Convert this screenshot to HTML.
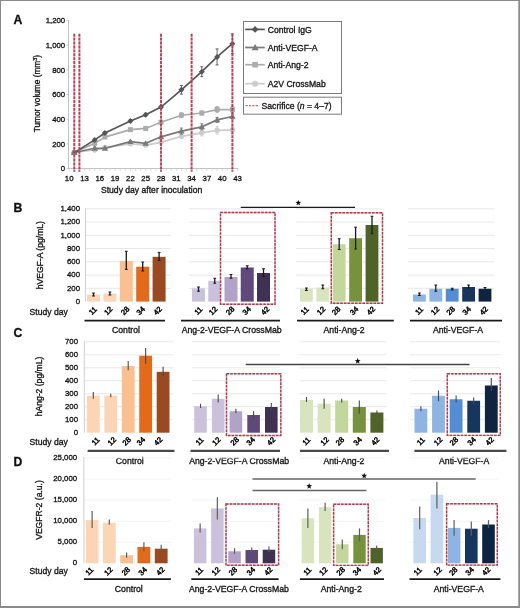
<!DOCTYPE html>
<html><head><meta charset="utf-8"><title>Figure</title>
<style>html,body{margin:0;padding:0;background:#fff;}svg{display:block;will-change:transform;}text{font-family:"Liberation Sans",sans-serif;stroke:#111;stroke-width:0.32px;}</style>
</head><body>
<svg width="520" height="608" viewBox="0 0 520 608">
<rect x="0" y="0" width="520" height="608" fill="#fff"/>
<text x="13.50" y="23.80" font-size="12.2" text-anchor="start" fill="#111" font-weight="bold" >A</text>
<line x1="68.50" y1="20.50" x2="68.50" y2="168.50" stroke="#c4c4c4" stroke-width="1" />
<line x1="68.50" y1="168.50" x2="238.50" y2="168.50" stroke="#c4c4c4" stroke-width="1" />
<line x1="66.50" y1="168.50" x2="68.50" y2="168.50" stroke="#bbb" stroke-width="0.8" />
<text x="65.20" y="171.30" font-size="7.8" text-anchor="end" fill="#222" >0</text>
<line x1="66.50" y1="143.84" x2="68.50" y2="143.84" stroke="#bbb" stroke-width="0.8" />
<text x="65.20" y="146.64" font-size="7.8" text-anchor="end" fill="#222" >200</text>
<line x1="66.50" y1="119.18" x2="68.50" y2="119.18" stroke="#bbb" stroke-width="0.8" />
<text x="65.20" y="121.98" font-size="7.8" text-anchor="end" fill="#222" >400</text>
<line x1="66.50" y1="94.52" x2="68.50" y2="94.52" stroke="#bbb" stroke-width="0.8" />
<text x="65.20" y="97.32" font-size="7.8" text-anchor="end" fill="#222" >600</text>
<line x1="66.50" y1="69.86" x2="68.50" y2="69.86" stroke="#bbb" stroke-width="0.8" />
<text x="65.20" y="72.66" font-size="7.8" text-anchor="end" fill="#222" >800</text>
<line x1="66.50" y1="45.20" x2="68.50" y2="45.20" stroke="#bbb" stroke-width="0.8" />
<text x="65.20" y="48.00" font-size="7.8" text-anchor="end" fill="#222" >1,000</text>
<line x1="66.50" y1="20.54" x2="68.50" y2="20.54" stroke="#bbb" stroke-width="0.8" />
<text x="65.20" y="23.34" font-size="7.8" text-anchor="end" fill="#222" >1,200</text>
<line x1="69.20" y1="168.50" x2="69.20" y2="170.80" stroke="#c8c8c8" stroke-width="0.7" />
<line x1="74.30" y1="168.50" x2="74.30" y2="170.80" stroke="#c8c8c8" stroke-width="0.7" />
<line x1="79.40" y1="168.50" x2="79.40" y2="170.80" stroke="#c8c8c8" stroke-width="0.7" />
<line x1="84.50" y1="168.50" x2="84.50" y2="170.80" stroke="#c8c8c8" stroke-width="0.7" />
<line x1="89.60" y1="168.50" x2="89.60" y2="170.80" stroke="#c8c8c8" stroke-width="0.7" />
<line x1="94.70" y1="168.50" x2="94.70" y2="170.80" stroke="#c8c8c8" stroke-width="0.7" />
<line x1="99.80" y1="168.50" x2="99.80" y2="170.80" stroke="#c8c8c8" stroke-width="0.7" />
<line x1="104.90" y1="168.50" x2="104.90" y2="170.80" stroke="#c8c8c8" stroke-width="0.7" />
<line x1="110.00" y1="168.50" x2="110.00" y2="170.80" stroke="#c8c8c8" stroke-width="0.7" />
<line x1="115.10" y1="168.50" x2="115.10" y2="170.80" stroke="#c8c8c8" stroke-width="0.7" />
<line x1="120.20" y1="168.50" x2="120.20" y2="170.80" stroke="#c8c8c8" stroke-width="0.7" />
<line x1="125.30" y1="168.50" x2="125.30" y2="170.80" stroke="#c8c8c8" stroke-width="0.7" />
<line x1="130.40" y1="168.50" x2="130.40" y2="170.80" stroke="#c8c8c8" stroke-width="0.7" />
<line x1="135.50" y1="168.50" x2="135.50" y2="170.80" stroke="#c8c8c8" stroke-width="0.7" />
<line x1="140.60" y1="168.50" x2="140.60" y2="170.80" stroke="#c8c8c8" stroke-width="0.7" />
<line x1="145.70" y1="168.50" x2="145.70" y2="170.80" stroke="#c8c8c8" stroke-width="0.7" />
<line x1="150.80" y1="168.50" x2="150.80" y2="170.80" stroke="#c8c8c8" stroke-width="0.7" />
<line x1="155.90" y1="168.50" x2="155.90" y2="170.80" stroke="#c8c8c8" stroke-width="0.7" />
<line x1="161.00" y1="168.50" x2="161.00" y2="170.80" stroke="#c8c8c8" stroke-width="0.7" />
<line x1="166.10" y1="168.50" x2="166.10" y2="170.80" stroke="#c8c8c8" stroke-width="0.7" />
<line x1="171.20" y1="168.50" x2="171.20" y2="170.80" stroke="#c8c8c8" stroke-width="0.7" />
<line x1="176.30" y1="168.50" x2="176.30" y2="170.80" stroke="#c8c8c8" stroke-width="0.7" />
<line x1="181.40" y1="168.50" x2="181.40" y2="170.80" stroke="#c8c8c8" stroke-width="0.7" />
<line x1="186.50" y1="168.50" x2="186.50" y2="170.80" stroke="#c8c8c8" stroke-width="0.7" />
<line x1="191.60" y1="168.50" x2="191.60" y2="170.80" stroke="#c8c8c8" stroke-width="0.7" />
<line x1="196.70" y1="168.50" x2="196.70" y2="170.80" stroke="#c8c8c8" stroke-width="0.7" />
<line x1="201.80" y1="168.50" x2="201.80" y2="170.80" stroke="#c8c8c8" stroke-width="0.7" />
<line x1="206.90" y1="168.50" x2="206.90" y2="170.80" stroke="#c8c8c8" stroke-width="0.7" />
<line x1="212.00" y1="168.50" x2="212.00" y2="170.80" stroke="#c8c8c8" stroke-width="0.7" />
<line x1="217.10" y1="168.50" x2="217.10" y2="170.80" stroke="#c8c8c8" stroke-width="0.7" />
<line x1="222.20" y1="168.50" x2="222.20" y2="170.80" stroke="#c8c8c8" stroke-width="0.7" />
<line x1="227.30" y1="168.50" x2="227.30" y2="170.80" stroke="#c8c8c8" stroke-width="0.7" />
<line x1="232.40" y1="168.50" x2="232.40" y2="170.80" stroke="#c8c8c8" stroke-width="0.7" />
<line x1="237.50" y1="168.50" x2="237.50" y2="170.80" stroke="#c8c8c8" stroke-width="0.7" />
<text x="69.20" y="181.20" font-size="7.8" text-anchor="middle" fill="#222" >10</text>
<text x="84.50" y="181.20" font-size="7.8" text-anchor="middle" fill="#222" >13</text>
<text x="99.80" y="181.20" font-size="7.8" text-anchor="middle" fill="#222" >16</text>
<text x="115.10" y="181.20" font-size="7.8" text-anchor="middle" fill="#222" >19</text>
<text x="130.40" y="181.20" font-size="7.8" text-anchor="middle" fill="#222" >22</text>
<text x="145.70" y="181.20" font-size="7.8" text-anchor="middle" fill="#222" >25</text>
<text x="161.00" y="181.20" font-size="7.8" text-anchor="middle" fill="#222" >28</text>
<text x="176.30" y="181.20" font-size="7.8" text-anchor="middle" fill="#222" >31</text>
<text x="191.60" y="181.20" font-size="7.8" text-anchor="middle" fill="#222" >34</text>
<text x="206.90" y="181.20" font-size="7.8" text-anchor="middle" fill="#222" >37</text>
<text x="222.20" y="181.20" font-size="7.8" text-anchor="middle" fill="#222" >40</text>
<text x="237.50" y="181.20" font-size="7.8" text-anchor="middle" fill="#222" >43</text>
<text x="151.60" y="192.60" font-size="8.6" text-anchor="middle" fill="#222" >Study day after inoculation</text>
<text x="0" y="0" font-size="8.3" text-anchor="middle" fill="#222" transform="translate(40.2,93.6) rotate(-90)">Tumor volume (mm<tspan dy="-3" font-size="5.5">3</tspan><tspan dy="3">)</tspan></text>
<polyline points="74.30,152.47 94.70,150.00 104.90,147.54 130.40,143.84 145.70,145.07 161.00,142.36 181.40,136.32 201.80,132.87 217.10,130.28 232.40,129.78" fill="none" stroke="#cccccc" stroke-width="1.7"/>
<line x1="94.70" y1="149.02" x2="94.70" y2="150.99" stroke="#cccccc" stroke-width="0.9" />
<line x1="93.20" y1="149.02" x2="96.20" y2="149.02" stroke="#cccccc" stroke-width="0.9" />
<line x1="93.20" y1="150.99" x2="96.20" y2="150.99" stroke="#cccccc" stroke-width="0.9" />
<line x1="130.40" y1="142.61" x2="130.40" y2="145.07" stroke="#cccccc" stroke-width="0.9" />
<line x1="128.90" y1="142.61" x2="131.90" y2="142.61" stroke="#cccccc" stroke-width="0.9" />
<line x1="128.90" y1="145.07" x2="131.90" y2="145.07" stroke="#cccccc" stroke-width="0.9" />
<line x1="145.70" y1="143.84" x2="145.70" y2="146.31" stroke="#cccccc" stroke-width="0.9" />
<line x1="144.20" y1="143.84" x2="147.20" y2="143.84" stroke="#cccccc" stroke-width="0.9" />
<line x1="144.20" y1="146.31" x2="147.20" y2="146.31" stroke="#cccccc" stroke-width="0.9" />
<line x1="161.00" y1="141.13" x2="161.00" y2="143.59" stroke="#cccccc" stroke-width="0.9" />
<line x1="159.50" y1="141.13" x2="162.50" y2="141.13" stroke="#cccccc" stroke-width="0.9" />
<line x1="159.50" y1="143.59" x2="162.50" y2="143.59" stroke="#cccccc" stroke-width="0.9" />
<line x1="181.40" y1="133.85" x2="181.40" y2="138.78" stroke="#cccccc" stroke-width="0.9" />
<line x1="179.90" y1="133.85" x2="182.90" y2="133.85" stroke="#cccccc" stroke-width="0.9" />
<line x1="179.90" y1="138.78" x2="182.90" y2="138.78" stroke="#cccccc" stroke-width="0.9" />
<line x1="201.80" y1="129.78" x2="201.80" y2="135.95" stroke="#cccccc" stroke-width="0.9" />
<line x1="200.30" y1="129.78" x2="203.30" y2="129.78" stroke="#cccccc" stroke-width="0.9" />
<line x1="200.30" y1="135.95" x2="203.30" y2="135.95" stroke="#cccccc" stroke-width="0.9" />
<line x1="217.10" y1="126.58" x2="217.10" y2="133.98" stroke="#cccccc" stroke-width="0.9" />
<line x1="215.60" y1="126.58" x2="218.60" y2="126.58" stroke="#cccccc" stroke-width="0.9" />
<line x1="215.60" y1="133.98" x2="218.60" y2="133.98" stroke="#cccccc" stroke-width="0.9" />
<line x1="232.40" y1="126.08" x2="232.40" y2="133.48" stroke="#cccccc" stroke-width="0.9" />
<line x1="230.90" y1="126.08" x2="233.90" y2="126.08" stroke="#cccccc" stroke-width="0.9" />
<line x1="230.90" y1="133.48" x2="233.90" y2="133.48" stroke="#cccccc" stroke-width="0.9" />
<circle cx="74.30" cy="152.47" r="2.70" fill="#cccccc"/>
<circle cx="94.70" cy="150.00" r="2.70" fill="#cccccc"/>
<circle cx="104.90" cy="147.54" r="2.70" fill="#cccccc"/>
<circle cx="130.40" cy="143.84" r="2.70" fill="#cccccc"/>
<circle cx="145.70" cy="145.07" r="2.70" fill="#cccccc"/>
<circle cx="161.00" cy="142.36" r="2.70" fill="#cccccc"/>
<circle cx="181.40" cy="136.32" r="2.70" fill="#cccccc"/>
<circle cx="201.80" cy="132.87" r="2.70" fill="#cccccc"/>
<circle cx="217.10" cy="130.28" r="2.70" fill="#cccccc"/>
<circle cx="232.40" cy="129.78" r="2.70" fill="#cccccc"/>
<polyline points="74.30,152.47 94.70,143.35 104.90,137.06 130.40,129.66 145.70,128.43 161.00,122.26 181.40,115.23 201.80,113.01 217.10,109.56 232.40,109.56" fill="none" stroke="#acacac" stroke-width="1.7"/>
<line x1="94.70" y1="142.36" x2="94.70" y2="144.33" stroke="#acacac" stroke-width="0.9" />
<line x1="93.20" y1="142.36" x2="96.20" y2="142.36" stroke="#acacac" stroke-width="0.9" />
<line x1="93.20" y1="144.33" x2="96.20" y2="144.33" stroke="#acacac" stroke-width="0.9" />
<line x1="104.90" y1="135.83" x2="104.90" y2="138.29" stroke="#acacac" stroke-width="0.9" />
<line x1="103.40" y1="135.83" x2="106.40" y2="135.83" stroke="#acacac" stroke-width="0.9" />
<line x1="103.40" y1="138.29" x2="106.40" y2="138.29" stroke="#acacac" stroke-width="0.9" />
<line x1="130.40" y1="128.43" x2="130.40" y2="130.89" stroke="#acacac" stroke-width="0.9" />
<line x1="128.90" y1="128.43" x2="131.90" y2="128.43" stroke="#acacac" stroke-width="0.9" />
<line x1="128.90" y1="130.89" x2="131.90" y2="130.89" stroke="#acacac" stroke-width="0.9" />
<line x1="145.70" y1="127.19" x2="145.70" y2="129.66" stroke="#acacac" stroke-width="0.9" />
<line x1="144.20" y1="127.19" x2="147.20" y2="127.19" stroke="#acacac" stroke-width="0.9" />
<line x1="144.20" y1="129.66" x2="147.20" y2="129.66" stroke="#acacac" stroke-width="0.9" />
<line x1="161.00" y1="121.03" x2="161.00" y2="123.50" stroke="#acacac" stroke-width="0.9" />
<line x1="159.50" y1="121.03" x2="162.50" y2="121.03" stroke="#acacac" stroke-width="0.9" />
<line x1="159.50" y1="123.50" x2="162.50" y2="123.50" stroke="#acacac" stroke-width="0.9" />
<line x1="181.40" y1="112.77" x2="181.40" y2="117.70" stroke="#acacac" stroke-width="0.9" />
<line x1="179.90" y1="112.77" x2="182.90" y2="112.77" stroke="#acacac" stroke-width="0.9" />
<line x1="179.90" y1="117.70" x2="182.90" y2="117.70" stroke="#acacac" stroke-width="0.9" />
<line x1="201.80" y1="111.17" x2="201.80" y2="114.86" stroke="#acacac" stroke-width="0.9" />
<line x1="200.30" y1="111.17" x2="203.30" y2="111.17" stroke="#acacac" stroke-width="0.9" />
<line x1="200.30" y1="114.86" x2="203.30" y2="114.86" stroke="#acacac" stroke-width="0.9" />
<line x1="217.10" y1="106.48" x2="217.10" y2="112.65" stroke="#acacac" stroke-width="0.9" />
<line x1="215.60" y1="106.48" x2="218.60" y2="106.48" stroke="#acacac" stroke-width="0.9" />
<line x1="215.60" y1="112.65" x2="218.60" y2="112.65" stroke="#acacac" stroke-width="0.9" />
<line x1="232.40" y1="106.48" x2="232.40" y2="112.65" stroke="#acacac" stroke-width="0.9" />
<line x1="230.90" y1="106.48" x2="233.90" y2="106.48" stroke="#acacac" stroke-width="0.9" />
<line x1="230.90" y1="112.65" x2="233.90" y2="112.65" stroke="#acacac" stroke-width="0.9" />
<rect x="71.80" y="149.97" width="5.00" height="5.00" fill="#acacac"/>
<rect x="92.20" y="140.85" width="5.00" height="5.00" fill="#acacac"/>
<rect x="102.40" y="134.56" width="5.00" height="5.00" fill="#acacac"/>
<rect x="127.90" y="127.16" width="5.00" height="5.00" fill="#acacac"/>
<rect x="143.20" y="125.93" width="5.00" height="5.00" fill="#acacac"/>
<rect x="158.50" y="119.76" width="5.00" height="5.00" fill="#acacac"/>
<rect x="178.90" y="112.73" width="5.00" height="5.00" fill="#acacac"/>
<rect x="199.30" y="110.51" width="5.00" height="5.00" fill="#acacac"/>
<rect x="214.60" y="107.06" width="5.00" height="5.00" fill="#acacac"/>
<rect x="229.90" y="107.06" width="5.00" height="5.00" fill="#acacac"/>
<polyline points="74.30,152.47 94.70,148.28 104.90,148.28 130.40,141.62 145.70,143.35 161.00,136.81 181.40,131.14 201.80,126.82 217.10,119.92 232.40,116.47" fill="none" stroke="#7a7a7a" stroke-width="1.7"/>
<line x1="94.70" y1="147.05" x2="94.70" y2="149.51" stroke="#7a7a7a" stroke-width="0.9" />
<line x1="93.20" y1="147.05" x2="96.20" y2="147.05" stroke="#7a7a7a" stroke-width="0.9" />
<line x1="93.20" y1="149.51" x2="96.20" y2="149.51" stroke="#7a7a7a" stroke-width="0.9" />
<line x1="104.90" y1="147.29" x2="104.90" y2="149.27" stroke="#7a7a7a" stroke-width="0.9" />
<line x1="103.40" y1="147.29" x2="106.40" y2="147.29" stroke="#7a7a7a" stroke-width="0.9" />
<line x1="103.40" y1="149.27" x2="106.40" y2="149.27" stroke="#7a7a7a" stroke-width="0.9" />
<line x1="130.40" y1="140.39" x2="130.40" y2="142.85" stroke="#7a7a7a" stroke-width="0.9" />
<line x1="128.90" y1="140.39" x2="131.90" y2="140.39" stroke="#7a7a7a" stroke-width="0.9" />
<line x1="128.90" y1="142.85" x2="131.90" y2="142.85" stroke="#7a7a7a" stroke-width="0.9" />
<line x1="145.70" y1="142.36" x2="145.70" y2="144.33" stroke="#7a7a7a" stroke-width="0.9" />
<line x1="144.20" y1="142.36" x2="147.20" y2="142.36" stroke="#7a7a7a" stroke-width="0.9" />
<line x1="144.20" y1="144.33" x2="147.20" y2="144.33" stroke="#7a7a7a" stroke-width="0.9" />
<line x1="161.00" y1="134.96" x2="161.00" y2="138.66" stroke="#7a7a7a" stroke-width="0.9" />
<line x1="159.50" y1="134.96" x2="162.50" y2="134.96" stroke="#7a7a7a" stroke-width="0.9" />
<line x1="159.50" y1="138.66" x2="162.50" y2="138.66" stroke="#7a7a7a" stroke-width="0.9" />
<line x1="181.40" y1="128.06" x2="181.40" y2="134.22" stroke="#7a7a7a" stroke-width="0.9" />
<line x1="179.90" y1="128.06" x2="182.90" y2="128.06" stroke="#7a7a7a" stroke-width="0.9" />
<line x1="179.90" y1="134.22" x2="182.90" y2="134.22" stroke="#7a7a7a" stroke-width="0.9" />
<line x1="201.80" y1="123.74" x2="201.80" y2="129.91" stroke="#7a7a7a" stroke-width="0.9" />
<line x1="200.30" y1="123.74" x2="203.30" y2="123.74" stroke="#7a7a7a" stroke-width="0.9" />
<line x1="200.30" y1="129.91" x2="203.30" y2="129.91" stroke="#7a7a7a" stroke-width="0.9" />
<line x1="217.10" y1="117.45" x2="217.10" y2="122.39" stroke="#7a7a7a" stroke-width="0.9" />
<line x1="215.60" y1="117.45" x2="218.60" y2="117.45" stroke="#7a7a7a" stroke-width="0.9" />
<line x1="215.60" y1="122.39" x2="218.60" y2="122.39" stroke="#7a7a7a" stroke-width="0.9" />
<line x1="232.40" y1="114.00" x2="232.40" y2="118.93" stroke="#7a7a7a" stroke-width="0.9" />
<line x1="230.90" y1="114.00" x2="233.90" y2="114.00" stroke="#7a7a7a" stroke-width="0.9" />
<line x1="230.90" y1="118.93" x2="233.90" y2="118.93" stroke="#7a7a7a" stroke-width="0.9" />
<polygon points="74.30,149.27 77.50,154.87 71.10,154.87" fill="#7a7a7a"/>
<polygon points="94.70,145.08 97.90,150.68 91.50,150.68" fill="#7a7a7a"/>
<polygon points="104.90,145.08 108.10,150.68 101.70,150.68" fill="#7a7a7a"/>
<polygon points="130.40,138.42 133.60,144.02 127.20,144.02" fill="#7a7a7a"/>
<polygon points="145.70,140.15 148.90,145.75 142.50,145.75" fill="#7a7a7a"/>
<polygon points="161.00,133.61 164.20,139.21 157.80,139.21" fill="#7a7a7a"/>
<polygon points="181.40,127.94 184.60,133.54 178.20,133.54" fill="#7a7a7a"/>
<polygon points="201.80,123.62 205.00,129.22 198.60,129.22" fill="#7a7a7a"/>
<polygon points="217.10,116.72 220.30,122.32 213.90,122.32" fill="#7a7a7a"/>
<polygon points="232.40,113.27 235.60,118.87 229.20,118.87" fill="#7a7a7a"/>
<polyline points="74.30,152.72 94.70,139.89 104.90,132.99 130.40,120.91 145.70,114.74 161.00,107.10 181.40,89.83 201.80,71.71 217.10,56.91 232.40,43.72" fill="none" stroke="#555555" stroke-width="1.7"/>
<line x1="94.70" y1="138.66" x2="94.70" y2="141.13" stroke="#555555" stroke-width="0.9" />
<line x1="93.20" y1="138.66" x2="96.20" y2="138.66" stroke="#555555" stroke-width="0.9" />
<line x1="93.20" y1="141.13" x2="96.20" y2="141.13" stroke="#555555" stroke-width="0.9" />
<line x1="104.90" y1="131.76" x2="104.90" y2="134.22" stroke="#555555" stroke-width="0.9" />
<line x1="103.40" y1="131.76" x2="106.40" y2="131.76" stroke="#555555" stroke-width="0.9" />
<line x1="103.40" y1="134.22" x2="106.40" y2="134.22" stroke="#555555" stroke-width="0.9" />
<line x1="130.40" y1="119.43" x2="130.40" y2="122.39" stroke="#555555" stroke-width="0.9" />
<line x1="128.90" y1="119.43" x2="131.90" y2="119.43" stroke="#555555" stroke-width="0.9" />
<line x1="128.90" y1="122.39" x2="131.90" y2="122.39" stroke="#555555" stroke-width="0.9" />
<line x1="145.70" y1="113.26" x2="145.70" y2="116.22" stroke="#555555" stroke-width="0.9" />
<line x1="144.20" y1="113.26" x2="147.20" y2="113.26" stroke="#555555" stroke-width="0.9" />
<line x1="144.20" y1="116.22" x2="147.20" y2="116.22" stroke="#555555" stroke-width="0.9" />
<line x1="161.00" y1="105.62" x2="161.00" y2="108.58" stroke="#555555" stroke-width="0.9" />
<line x1="159.50" y1="105.62" x2="162.50" y2="105.62" stroke="#555555" stroke-width="0.9" />
<line x1="159.50" y1="108.58" x2="162.50" y2="108.58" stroke="#555555" stroke-width="0.9" />
<line x1="181.40" y1="85.52" x2="181.40" y2="94.15" stroke="#555555" stroke-width="0.9" />
<line x1="179.90" y1="85.52" x2="182.90" y2="85.52" stroke="#555555" stroke-width="0.9" />
<line x1="179.90" y1="94.15" x2="182.90" y2="94.15" stroke="#555555" stroke-width="0.9" />
<line x1="201.80" y1="66.78" x2="201.80" y2="76.64" stroke="#555555" stroke-width="0.9" />
<line x1="200.30" y1="66.78" x2="203.30" y2="66.78" stroke="#555555" stroke-width="0.9" />
<line x1="200.30" y1="76.64" x2="203.30" y2="76.64" stroke="#555555" stroke-width="0.9" />
<line x1="217.10" y1="48.90" x2="217.10" y2="64.93" stroke="#555555" stroke-width="0.9" />
<line x1="215.60" y1="48.90" x2="218.60" y2="48.90" stroke="#555555" stroke-width="0.9" />
<line x1="215.60" y1="64.93" x2="218.60" y2="64.93" stroke="#555555" stroke-width="0.9" />
<line x1="232.40" y1="33.86" x2="232.40" y2="53.58" stroke="#555555" stroke-width="0.9" />
<line x1="230.90" y1="33.86" x2="233.90" y2="33.86" stroke="#555555" stroke-width="0.9" />
<line x1="230.90" y1="53.58" x2="233.90" y2="53.58" stroke="#555555" stroke-width="0.9" />
<polygon points="74.30,149.72 77.30,152.72 74.30,155.72 71.30,152.72" fill="#555555"/>
<polygon points="94.70,136.89 97.70,139.89 94.70,142.89 91.70,139.89" fill="#555555"/>
<polygon points="104.90,129.99 107.90,132.99 104.90,135.99 101.90,132.99" fill="#555555"/>
<polygon points="130.40,117.91 133.40,120.91 130.40,123.91 127.40,120.91" fill="#555555"/>
<polygon points="145.70,111.74 148.70,114.74 145.70,117.74 142.70,114.74" fill="#555555"/>
<polygon points="161.00,104.10 164.00,107.10 161.00,110.10 158.00,107.10" fill="#555555"/>
<polygon points="181.40,86.83 184.40,89.83 181.40,92.83 178.40,89.83" fill="#555555"/>
<polygon points="201.80,68.71 204.80,71.71 201.80,74.71 198.80,71.71" fill="#555555"/>
<polygon points="217.10,53.91 220.10,56.91 217.10,59.91 214.10,56.91" fill="#555555"/>
<polygon points="232.40,40.72 235.40,43.72 232.40,46.72 229.40,43.72" fill="#555555"/>
<polygon points="74.30,149.27 77.50,154.87 71.10,154.87" fill="#7a7a7a"/>
<line x1="74.30" y1="33.80" x2="74.30" y2="171.80" stroke="#e88a9a" stroke-width="1.9" stroke-opacity="0.45"/>
<line x1="74.30" y1="33.80" x2="74.30" y2="171.80" stroke="#a83a4b" stroke-width="1.9" stroke-dasharray="2.9,1.0" stroke-opacity="0.9"/>
<line x1="79.40" y1="33.80" x2="79.40" y2="171.80" stroke="#e88a9a" stroke-width="1.9" stroke-opacity="0.45"/>
<line x1="79.40" y1="33.80" x2="79.40" y2="171.80" stroke="#a83a4b" stroke-width="1.9" stroke-dasharray="2.9,1.0" stroke-opacity="0.9"/>
<line x1="161.00" y1="33.80" x2="161.00" y2="171.80" stroke="#e88a9a" stroke-width="1.9" stroke-opacity="0.45"/>
<line x1="161.00" y1="33.80" x2="161.00" y2="171.80" stroke="#a83a4b" stroke-width="1.9" stroke-dasharray="2.9,1.0" stroke-opacity="0.9"/>
<line x1="191.60" y1="33.80" x2="191.60" y2="171.80" stroke="#e88a9a" stroke-width="1.9" stroke-opacity="0.45"/>
<line x1="191.60" y1="33.80" x2="191.60" y2="171.80" stroke="#a83a4b" stroke-width="1.9" stroke-dasharray="2.9,1.0" stroke-opacity="0.9"/>
<line x1="232.40" y1="33.80" x2="232.40" y2="171.80" stroke="#e88a9a" stroke-width="1.9" stroke-opacity="0.45"/>
<line x1="232.40" y1="33.80" x2="232.40" y2="171.80" stroke="#a83a4b" stroke-width="1.9" stroke-dasharray="2.9,1.0" stroke-opacity="0.9"/>
<rect x="243.5" y="21.5" width="98" height="72" fill="#fff" stroke="#7a7a7a" stroke-width="1"/>
<line x1="245.20" y1="29.40" x2="264.80" y2="29.40" stroke="#555555" stroke-width="1.7" />
<polygon points="255.10,26.04 258.46,29.40 255.10,32.76 251.74,29.40" fill="#555555"/>
<text x="267.70" y="32.50" font-size="8.65" text-anchor="start" fill="#222" >Control IgG</text>
<line x1="245.20" y1="47.50" x2="264.80" y2="47.50" stroke="#7a7a7a" stroke-width="1.7" />
<polygon points="255.10,43.92 258.68,50.19 251.52,50.19" fill="#7a7a7a"/>
<text x="267.70" y="50.60" font-size="8.65" text-anchor="start" fill="#222" >Anti-VEGF-A</text>
<line x1="245.20" y1="64.70" x2="264.80" y2="64.70" stroke="#acacac" stroke-width="1.7" />
<rect x="252.30" y="61.90" width="5.60" height="5.60" fill="#acacac"/>
<text x="267.70" y="67.80" font-size="8.65" text-anchor="start" fill="#222" >Anti-Ang-2</text>
<line x1="245.20" y1="83.70" x2="264.80" y2="83.70" stroke="#cccccc" stroke-width="1.7" />
<circle cx="255.10" cy="83.70" r="3.02" fill="#cccccc"/>
<text x="267.70" y="86.80" font-size="8.65" text-anchor="start" fill="#222" >A2V CrossMab</text>
<rect x="243.5" y="97.2" width="98" height="17" fill="#fff" stroke="#7a7a7a" stroke-width="1"/>
<line x1="245.50" y1="105.60" x2="258.20" y2="105.60" stroke="#d8606e" stroke-width="1.1" stroke-dasharray="2.2,1.2"/>
<text x="261.6" y="108.7" font-size="8.6" fill="#222">Sacrifice (<tspan font-style="italic">n</tspan> = 4&#8211;7)</text>
<text x="13.40" y="212.00" font-size="12.2" text-anchor="start" fill="#111" font-weight="bold" >B</text>
<line x1="85.40" y1="288.34" x2="170.80" y2="288.34" stroke="#e2e2e2" stroke-width="0.8" />
<line x1="85.40" y1="275.09" x2="170.80" y2="275.09" stroke="#e2e2e2" stroke-width="0.8" />
<line x1="85.40" y1="261.83" x2="170.80" y2="261.83" stroke="#e2e2e2" stroke-width="0.8" />
<line x1="85.40" y1="248.57" x2="170.80" y2="248.57" stroke="#e2e2e2" stroke-width="0.8" />
<line x1="85.40" y1="235.31" x2="170.80" y2="235.31" stroke="#e2e2e2" stroke-width="0.8" />
<line x1="85.40" y1="222.06" x2="170.80" y2="222.06" stroke="#e2e2e2" stroke-width="0.8" />
<line x1="85.40" y1="208.80" x2="170.80" y2="208.80" stroke="#e2e2e2" stroke-width="0.8" />
<line x1="188.80" y1="288.34" x2="273.00" y2="288.34" stroke="#e2e2e2" stroke-width="0.8" />
<line x1="188.80" y1="275.09" x2="273.00" y2="275.09" stroke="#e2e2e2" stroke-width="0.8" />
<line x1="188.80" y1="261.83" x2="273.00" y2="261.83" stroke="#e2e2e2" stroke-width="0.8" />
<line x1="188.80" y1="248.57" x2="273.00" y2="248.57" stroke="#e2e2e2" stroke-width="0.8" />
<line x1="188.80" y1="235.31" x2="273.00" y2="235.31" stroke="#e2e2e2" stroke-width="0.8" />
<line x1="188.80" y1="222.06" x2="273.00" y2="222.06" stroke="#e2e2e2" stroke-width="0.8" />
<line x1="188.80" y1="208.80" x2="273.00" y2="208.80" stroke="#e2e2e2" stroke-width="0.8" />
<line x1="296.20" y1="288.34" x2="381.50" y2="288.34" stroke="#e2e2e2" stroke-width="0.8" />
<line x1="296.20" y1="275.09" x2="381.50" y2="275.09" stroke="#e2e2e2" stroke-width="0.8" />
<line x1="296.20" y1="261.83" x2="381.50" y2="261.83" stroke="#e2e2e2" stroke-width="0.8" />
<line x1="296.20" y1="248.57" x2="381.50" y2="248.57" stroke="#e2e2e2" stroke-width="0.8" />
<line x1="296.20" y1="235.31" x2="381.50" y2="235.31" stroke="#e2e2e2" stroke-width="0.8" />
<line x1="296.20" y1="222.06" x2="381.50" y2="222.06" stroke="#e2e2e2" stroke-width="0.8" />
<line x1="296.20" y1="208.80" x2="381.50" y2="208.80" stroke="#e2e2e2" stroke-width="0.8" />
<line x1="408.00" y1="288.34" x2="494.60" y2="288.34" stroke="#e2e2e2" stroke-width="0.8" />
<line x1="408.00" y1="275.09" x2="494.60" y2="275.09" stroke="#e2e2e2" stroke-width="0.8" />
<line x1="408.00" y1="261.83" x2="494.60" y2="261.83" stroke="#e2e2e2" stroke-width="0.8" />
<line x1="408.00" y1="248.57" x2="494.60" y2="248.57" stroke="#e2e2e2" stroke-width="0.8" />
<line x1="408.00" y1="235.31" x2="494.60" y2="235.31" stroke="#e2e2e2" stroke-width="0.8" />
<line x1="408.00" y1="222.06" x2="494.60" y2="222.06" stroke="#e2e2e2" stroke-width="0.8" />
<line x1="408.00" y1="208.80" x2="494.60" y2="208.80" stroke="#e2e2e2" stroke-width="0.8" />
<line x1="85.40" y1="208.30" x2="85.40" y2="301.60" stroke="#c8c8c8" stroke-width="0.9" />
<text x="80.00" y="304.00" font-size="7.8" text-anchor="end" fill="#222" >0</text>
<text x="80.00" y="290.74" font-size="7.8" text-anchor="end" fill="#222" >200</text>
<text x="80.00" y="277.49" font-size="7.8" text-anchor="end" fill="#222" >400</text>
<text x="80.00" y="264.23" font-size="7.8" text-anchor="end" fill="#222" >600</text>
<text x="80.00" y="250.97" font-size="7.8" text-anchor="end" fill="#222" >800</text>
<text x="80.00" y="237.71" font-size="7.8" text-anchor="end" fill="#222" >1,000</text>
<text x="80.00" y="224.46" font-size="7.8" text-anchor="end" fill="#222" >1,200</text>
<text x="80.00" y="211.20" font-size="7.8" text-anchor="end" fill="#222" >1,400</text>
<text x="0" y="0" font-size="8.6" text-anchor="middle" fill="#222" transform="translate(42.8,255.2) rotate(-90)">hVEGF-A (pg/mL)</text>
<text x="29.60" y="315.00" font-size="8.6" text-anchor="start" fill="#222" >Study day</text>
<rect x="87.00" y="294.40" width="13.00" height="7.20" fill="#FBD5B5" />
<rect x="103.40" y="293.60" width="13.00" height="8.00" fill="#FBD5B5" />
<rect x="119.80" y="260.90" width="13.00" height="40.70" fill="#FAC090" />
<rect x="136.20" y="266.70" width="13.00" height="34.90" fill="#E26A1A" />
<rect x="152.60" y="256.80" width="13.00" height="44.80" fill="#9A4A22" />
<line x1="93.50" y1="293.00" x2="93.50" y2="296.00" stroke="#1a1a1a" stroke-width="1.3" />
<line x1="92.10" y1="293.00" x2="94.90" y2="293.00" stroke="#1a1a1a" stroke-width="1.0" />
<line x1="92.10" y1="296.00" x2="94.90" y2="296.00" stroke="#1a1a1a" stroke-width="1.0" />
<line x1="109.90" y1="292.00" x2="109.90" y2="295.00" stroke="#1a1a1a" stroke-width="1.3" />
<line x1="108.50" y1="292.00" x2="111.30" y2="292.00" stroke="#1a1a1a" stroke-width="1.0" />
<line x1="108.50" y1="295.00" x2="111.30" y2="295.00" stroke="#1a1a1a" stroke-width="1.0" />
<line x1="126.30" y1="251.30" x2="126.30" y2="269.40" stroke="#1a1a1a" stroke-width="1.3" />
<line x1="124.90" y1="251.30" x2="127.70" y2="251.30" stroke="#1a1a1a" stroke-width="1.0" />
<line x1="124.90" y1="269.40" x2="127.70" y2="269.40" stroke="#1a1a1a" stroke-width="1.0" />
<line x1="142.70" y1="262.00" x2="142.70" y2="271.00" stroke="#1a1a1a" stroke-width="1.3" />
<line x1="141.30" y1="262.00" x2="144.10" y2="262.00" stroke="#1a1a1a" stroke-width="1.0" />
<line x1="141.30" y1="271.00" x2="144.10" y2="271.00" stroke="#1a1a1a" stroke-width="1.0" />
<line x1="159.10" y1="252.40" x2="159.10" y2="260.50" stroke="#1a1a1a" stroke-width="1.3" />
<line x1="157.70" y1="252.40" x2="160.50" y2="252.40" stroke="#1a1a1a" stroke-width="1.0" />
<line x1="157.70" y1="260.50" x2="160.50" y2="260.50" stroke="#1a1a1a" stroke-width="1.0" />
<text x="0" y="0" font-size="7.5" font-weight="normal" text-anchor="middle" fill="#000" style="stroke:#000;stroke-width:0.45px" transform="translate(94.70,312.60) rotate(-45)">11</text>
<text x="0" y="0" font-size="7.5" font-weight="normal" text-anchor="middle" fill="#000" style="stroke:#000;stroke-width:0.45px" transform="translate(110.10,312.60) rotate(-45)">12</text>
<text x="0" y="0" font-size="7.5" font-weight="normal" text-anchor="middle" fill="#000" style="stroke:#000;stroke-width:0.45px" transform="translate(126.90,312.60) rotate(-45)">28</text>
<text x="0" y="0" font-size="7.5" font-weight="normal" text-anchor="middle" fill="#000" style="stroke:#000;stroke-width:0.45px" transform="translate(142.50,312.60) rotate(-45)">34</text>
<text x="0" y="0" font-size="7.5" font-weight="normal" text-anchor="middle" fill="#000" style="stroke:#000;stroke-width:0.45px" transform="translate(159.50,312.60) rotate(-45)">42</text>
<rect x="192.00" y="288.40" width="13.00" height="13.20" fill="#CCC1DA" />
<rect x="208.25" y="280.80" width="13.00" height="20.80" fill="#CCC1DA" />
<rect x="224.50" y="277.00" width="13.00" height="24.60" fill="#B2A2C7" />
<rect x="240.75" y="267.50" width="13.00" height="34.10" fill="#5F497A" />
<rect x="257.00" y="273.00" width="13.00" height="28.60" fill="#3F3151" />
<line x1="198.50" y1="287.00" x2="198.50" y2="291.25" stroke="#1a1a1a" stroke-width="1.3" />
<line x1="197.10" y1="287.00" x2="199.90" y2="287.00" stroke="#1a1a1a" stroke-width="1.0" />
<line x1="197.10" y1="291.25" x2="199.90" y2="291.25" stroke="#1a1a1a" stroke-width="1.0" />
<line x1="214.75" y1="278.25" x2="214.75" y2="283.25" stroke="#1a1a1a" stroke-width="1.3" />
<line x1="213.35" y1="278.25" x2="216.15" y2="278.25" stroke="#1a1a1a" stroke-width="1.0" />
<line x1="213.35" y1="283.25" x2="216.15" y2="283.25" stroke="#1a1a1a" stroke-width="1.0" />
<line x1="231.00" y1="274.50" x2="231.00" y2="278.25" stroke="#1a1a1a" stroke-width="1.3" />
<line x1="229.60" y1="274.50" x2="232.40" y2="274.50" stroke="#1a1a1a" stroke-width="1.0" />
<line x1="229.60" y1="278.25" x2="232.40" y2="278.25" stroke="#1a1a1a" stroke-width="1.0" />
<line x1="247.25" y1="265.75" x2="247.25" y2="268.75" stroke="#1a1a1a" stroke-width="1.3" />
<line x1="245.85" y1="265.75" x2="248.65" y2="265.75" stroke="#1a1a1a" stroke-width="1.0" />
<line x1="245.85" y1="268.75" x2="248.65" y2="268.75" stroke="#1a1a1a" stroke-width="1.0" />
<line x1="263.50" y1="268.75" x2="263.50" y2="276.25" stroke="#1a1a1a" stroke-width="1.3" />
<line x1="262.10" y1="268.75" x2="264.90" y2="268.75" stroke="#1a1a1a" stroke-width="1.0" />
<line x1="262.10" y1="276.25" x2="264.90" y2="276.25" stroke="#1a1a1a" stroke-width="1.0" />
<text x="0" y="0" font-size="7.5" font-weight="normal" text-anchor="middle" fill="#000" style="stroke:#000;stroke-width:0.45px" transform="translate(200.30,312.60) rotate(-45)">11</text>
<text x="0" y="0" font-size="7.5" font-weight="normal" text-anchor="middle" fill="#000" style="stroke:#000;stroke-width:0.45px" transform="translate(215.00,312.60) rotate(-45)">12</text>
<text x="0" y="0" font-size="7.5" font-weight="normal" text-anchor="middle" fill="#000" style="stroke:#000;stroke-width:0.45px" transform="translate(232.00,312.60) rotate(-45)">28</text>
<text x="0" y="0" font-size="7.5" font-weight="normal" text-anchor="middle" fill="#000" style="stroke:#000;stroke-width:0.45px" transform="translate(248.50,312.60) rotate(-45)">34</text>
<text x="0" y="0" font-size="7.5" font-weight="normal" text-anchor="middle" fill="#000" style="stroke:#000;stroke-width:0.45px" transform="translate(267.00,312.60) rotate(-45)">42</text>
<rect x="300.00" y="288.75" width="12.80" height="12.85" fill="#D7E4BD" />
<rect x="316.40" y="287.50" width="12.80" height="14.10" fill="#D7E4BD" />
<rect x="332.80" y="244.25" width="12.80" height="57.35" fill="#C3D69B" />
<rect x="349.20" y="238.25" width="12.80" height="63.35" fill="#76923C" />
<rect x="365.60" y="225.00" width="12.80" height="76.60" fill="#4F6228" />
<line x1="306.40" y1="288.00" x2="306.40" y2="290.50" stroke="#1a1a1a" stroke-width="1.3" />
<line x1="305.00" y1="288.00" x2="307.80" y2="288.00" stroke="#1a1a1a" stroke-width="1.0" />
<line x1="305.00" y1="290.50" x2="307.80" y2="290.50" stroke="#1a1a1a" stroke-width="1.0" />
<line x1="322.80" y1="285.00" x2="322.80" y2="288.75" stroke="#1a1a1a" stroke-width="1.3" />
<line x1="321.40" y1="285.00" x2="324.20" y2="285.00" stroke="#1a1a1a" stroke-width="1.0" />
<line x1="321.40" y1="288.75" x2="324.20" y2="288.75" stroke="#1a1a1a" stroke-width="1.0" />
<line x1="339.20" y1="238.75" x2="339.20" y2="249.50" stroke="#1a1a1a" stroke-width="1.3" />
<line x1="337.80" y1="238.75" x2="340.60" y2="238.75" stroke="#1a1a1a" stroke-width="1.0" />
<line x1="337.80" y1="249.50" x2="340.60" y2="249.50" stroke="#1a1a1a" stroke-width="1.0" />
<line x1="355.60" y1="227.20" x2="355.60" y2="249.00" stroke="#1a1a1a" stroke-width="1.3" />
<line x1="354.20" y1="227.20" x2="357.00" y2="227.20" stroke="#1a1a1a" stroke-width="1.0" />
<line x1="354.20" y1="249.00" x2="357.00" y2="249.00" stroke="#1a1a1a" stroke-width="1.0" />
<line x1="372.00" y1="216.25" x2="372.00" y2="233.75" stroke="#1a1a1a" stroke-width="1.3" />
<line x1="370.60" y1="216.25" x2="373.40" y2="216.25" stroke="#1a1a1a" stroke-width="1.0" />
<line x1="370.60" y1="233.75" x2="373.40" y2="233.75" stroke="#1a1a1a" stroke-width="1.0" />
<text x="0" y="0" font-size="7.5" font-weight="normal" text-anchor="middle" fill="#000" style="stroke:#000;stroke-width:0.45px" transform="translate(306.60,312.60) rotate(-45)">11</text>
<text x="0" y="0" font-size="7.5" font-weight="normal" text-anchor="middle" fill="#000" style="stroke:#000;stroke-width:0.45px" transform="translate(323.00,312.60) rotate(-45)">12</text>
<text x="0" y="0" font-size="7.5" font-weight="normal" text-anchor="middle" fill="#000" style="stroke:#000;stroke-width:0.45px" transform="translate(338.00,312.60) rotate(-45)">28</text>
<text x="0" y="0" font-size="7.5" font-weight="normal" text-anchor="middle" fill="#000" style="stroke:#000;stroke-width:0.45px" transform="translate(355.90,312.60) rotate(-45)">34</text>
<text x="0" y="0" font-size="7.5" font-weight="normal" text-anchor="middle" fill="#000" style="stroke:#000;stroke-width:0.45px" transform="translate(372.70,312.60) rotate(-45)">42</text>
<rect x="413.00" y="294.50" width="12.80" height="7.10" fill="#8DB4E3" />
<rect x="429.40" y="288.75" width="12.80" height="12.85" fill="#8DB4E3" />
<rect x="445.80" y="288.75" width="12.80" height="12.85" fill="#548DD4" />
<rect x="462.20" y="287.00" width="12.80" height="14.60" fill="#17365D" />
<rect x="478.60" y="288.75" width="12.80" height="12.85" fill="#0F243E" />
<line x1="419.40" y1="293.00" x2="419.40" y2="295.50" stroke="#1a1a1a" stroke-width="1.3" />
<line x1="418.00" y1="293.00" x2="420.80" y2="293.00" stroke="#1a1a1a" stroke-width="1.0" />
<line x1="418.00" y1="295.50" x2="420.80" y2="295.50" stroke="#1a1a1a" stroke-width="1.0" />
<line x1="435.80" y1="285.00" x2="435.80" y2="291.25" stroke="#1a1a1a" stroke-width="1.3" />
<line x1="434.40" y1="285.00" x2="437.20" y2="285.00" stroke="#1a1a1a" stroke-width="1.0" />
<line x1="434.40" y1="291.25" x2="437.20" y2="291.25" stroke="#1a1a1a" stroke-width="1.0" />
<line x1="452.20" y1="288.25" x2="452.20" y2="290.00" stroke="#1a1a1a" stroke-width="1.3" />
<line x1="450.80" y1="288.25" x2="453.60" y2="288.25" stroke="#1a1a1a" stroke-width="1.0" />
<line x1="450.80" y1="290.00" x2="453.60" y2="290.00" stroke="#1a1a1a" stroke-width="1.0" />
<line x1="468.60" y1="285.00" x2="468.60" y2="288.00" stroke="#1a1a1a" stroke-width="1.3" />
<line x1="467.20" y1="285.00" x2="470.00" y2="285.00" stroke="#1a1a1a" stroke-width="1.0" />
<line x1="467.20" y1="288.00" x2="470.00" y2="288.00" stroke="#1a1a1a" stroke-width="1.0" />
<line x1="485.00" y1="287.50" x2="485.00" y2="289.50" stroke="#1a1a1a" stroke-width="1.3" />
<line x1="483.60" y1="287.50" x2="486.40" y2="287.50" stroke="#1a1a1a" stroke-width="1.0" />
<line x1="483.60" y1="289.50" x2="486.40" y2="289.50" stroke="#1a1a1a" stroke-width="1.0" />
<text x="0" y="0" font-size="7.5" font-weight="normal" text-anchor="middle" fill="#000" style="stroke:#000;stroke-width:0.45px" transform="translate(420.90,312.60) rotate(-45)">11</text>
<text x="0" y="0" font-size="7.5" font-weight="normal" text-anchor="middle" fill="#000" style="stroke:#000;stroke-width:0.45px" transform="translate(436.90,312.60) rotate(-45)">12</text>
<text x="0" y="0" font-size="7.5" font-weight="normal" text-anchor="middle" fill="#000" style="stroke:#000;stroke-width:0.45px" transform="translate(452.50,312.60) rotate(-45)">28</text>
<text x="0" y="0" font-size="7.5" font-weight="normal" text-anchor="middle" fill="#000" style="stroke:#000;stroke-width:0.45px" transform="translate(468.50,312.60) rotate(-45)">34</text>
<text x="0" y="0" font-size="7.5" font-weight="normal" text-anchor="middle" fill="#000" style="stroke:#000;stroke-width:0.45px" transform="translate(485.60,312.60) rotate(-45)">42</text>
<rect x="220.50" y="212.50" width="54.50" height="91.70" fill="none" stroke="#f0bcc6" stroke-width="1.5"/>
<rect x="220.50" y="212.50" width="54.50" height="91.70" fill="none" stroke="#a8414f" stroke-width="1.4" stroke-dasharray="2.6,1.1"/>
<rect x="331.30" y="212.80" width="51.20" height="90.40" fill="none" stroke="#f0bcc6" stroke-width="1.5"/>
<rect x="331.30" y="212.80" width="51.20" height="90.40" fill="none" stroke="#a8414f" stroke-width="1.4" stroke-dasharray="2.6,1.1"/>
<line x1="240.70" y1="207.40" x2="355.00" y2="207.40" stroke="#1a1a1a" stroke-width="1.15" />
<polygon points="298.30,199.90 299.09,201.81 301.15,201.97 299.58,203.32 300.06,205.33 298.30,204.25 296.54,205.33 297.02,203.32 295.45,201.97 297.51,201.81" fill="#111"/>
<line x1="84.50" y1="320.60" x2="165.00" y2="320.60" stroke="#1a1a1a" stroke-width="1.6" />
<line x1="181.00" y1="320.60" x2="280.00" y2="320.60" stroke="#1a1a1a" stroke-width="1.6" />
<line x1="297.00" y1="320.60" x2="393.80" y2="320.60" stroke="#1a1a1a" stroke-width="1.6" />
<line x1="410.00" y1="320.60" x2="502.00" y2="320.60" stroke="#1a1a1a" stroke-width="1.6" />
<text x="126.00" y="333.20" font-size="8.7" text-anchor="middle" fill="#222" >Control</text>
<text x="231.60" y="333.20" font-size="8.7" text-anchor="middle" fill="#222" >Ang-2-VEGF-A CrossMab</text>
<text x="344.10" y="333.20" font-size="8.7" text-anchor="middle" fill="#222" >Anti-Ang-2</text>
<text x="458.00" y="333.20" font-size="8.7" text-anchor="middle" fill="#222" >Anti-VEGF-A</text>
<text x="13.40" y="337.00" font-size="12.2" text-anchor="start" fill="#111" font-weight="bold" >C</text>
<line x1="84.50" y1="419.71" x2="173.00" y2="419.71" stroke="#e2e2e2" stroke-width="0.8" />
<line x1="84.50" y1="406.73" x2="173.00" y2="406.73" stroke="#e2e2e2" stroke-width="0.8" />
<line x1="84.50" y1="393.74" x2="173.00" y2="393.74" stroke="#e2e2e2" stroke-width="0.8" />
<line x1="84.50" y1="380.76" x2="173.00" y2="380.76" stroke="#e2e2e2" stroke-width="0.8" />
<line x1="84.50" y1="367.77" x2="173.00" y2="367.77" stroke="#e2e2e2" stroke-width="0.8" />
<line x1="84.50" y1="354.79" x2="173.00" y2="354.79" stroke="#e2e2e2" stroke-width="0.8" />
<line x1="84.50" y1="341.80" x2="173.00" y2="341.80" stroke="#e2e2e2" stroke-width="0.8" />
<line x1="192.00" y1="419.71" x2="280.00" y2="419.71" stroke="#e2e2e2" stroke-width="0.8" />
<line x1="192.00" y1="406.73" x2="280.00" y2="406.73" stroke="#e2e2e2" stroke-width="0.8" />
<line x1="192.00" y1="393.74" x2="280.00" y2="393.74" stroke="#e2e2e2" stroke-width="0.8" />
<line x1="192.00" y1="380.76" x2="280.00" y2="380.76" stroke="#e2e2e2" stroke-width="0.8" />
<line x1="192.00" y1="367.77" x2="280.00" y2="367.77" stroke="#e2e2e2" stroke-width="0.8" />
<line x1="192.00" y1="354.79" x2="280.00" y2="354.79" stroke="#e2e2e2" stroke-width="0.8" />
<line x1="192.00" y1="341.80" x2="280.00" y2="341.80" stroke="#e2e2e2" stroke-width="0.8" />
<line x1="299.50" y1="419.71" x2="386.50" y2="419.71" stroke="#e2e2e2" stroke-width="0.8" />
<line x1="299.50" y1="406.73" x2="386.50" y2="406.73" stroke="#e2e2e2" stroke-width="0.8" />
<line x1="299.50" y1="393.74" x2="386.50" y2="393.74" stroke="#e2e2e2" stroke-width="0.8" />
<line x1="299.50" y1="380.76" x2="386.50" y2="380.76" stroke="#e2e2e2" stroke-width="0.8" />
<line x1="299.50" y1="367.77" x2="386.50" y2="367.77" stroke="#e2e2e2" stroke-width="0.8" />
<line x1="299.50" y1="354.79" x2="386.50" y2="354.79" stroke="#e2e2e2" stroke-width="0.8" />
<line x1="299.50" y1="341.80" x2="386.50" y2="341.80" stroke="#e2e2e2" stroke-width="0.8" />
<line x1="410.00" y1="419.71" x2="500.00" y2="419.71" stroke="#e2e2e2" stroke-width="0.8" />
<line x1="410.00" y1="406.73" x2="500.00" y2="406.73" stroke="#e2e2e2" stroke-width="0.8" />
<line x1="410.00" y1="393.74" x2="500.00" y2="393.74" stroke="#e2e2e2" stroke-width="0.8" />
<line x1="410.00" y1="380.76" x2="500.00" y2="380.76" stroke="#e2e2e2" stroke-width="0.8" />
<line x1="410.00" y1="367.77" x2="500.00" y2="367.77" stroke="#e2e2e2" stroke-width="0.8" />
<line x1="410.00" y1="354.79" x2="500.00" y2="354.79" stroke="#e2e2e2" stroke-width="0.8" />
<line x1="410.00" y1="341.80" x2="500.00" y2="341.80" stroke="#e2e2e2" stroke-width="0.8" />
<line x1="84.30" y1="340.80" x2="84.30" y2="432.70" stroke="#c8c8c8" stroke-width="0.9" />
<text x="78.00" y="435.00" font-size="7.8" text-anchor="end" fill="#222" >0</text>
<text x="78.00" y="422.01" font-size="7.8" text-anchor="end" fill="#222" >100</text>
<text x="78.00" y="409.03" font-size="7.8" text-anchor="end" fill="#222" >200</text>
<text x="78.00" y="396.04" font-size="7.8" text-anchor="end" fill="#222" >300</text>
<text x="78.00" y="383.06" font-size="7.8" text-anchor="end" fill="#222" >400</text>
<text x="78.00" y="370.07" font-size="7.8" text-anchor="end" fill="#222" >500</text>
<text x="78.00" y="357.09" font-size="7.8" text-anchor="end" fill="#222" >600</text>
<text x="78.00" y="344.10" font-size="7.8" text-anchor="end" fill="#222" >700</text>
<text x="0" y="0" font-size="8.6" text-anchor="middle" fill="#222" transform="translate(42.4,386.5) rotate(-90)">hAng-2 (pg/mL)</text>
<text x="29.60" y="445.20" font-size="8.6" text-anchor="start" fill="#222" >Study day</text>
<rect x="86.90" y="395.60" width="12.80" height="37.10" fill="#FBD5B5" />
<rect x="104.35" y="395.60" width="12.80" height="37.10" fill="#FBD5B5" />
<rect x="121.80" y="366.00" width="12.80" height="66.70" fill="#FAC090" />
<rect x="139.25" y="355.70" width="12.80" height="77.00" fill="#E26A1A" />
<rect x="156.70" y="371.80" width="12.80" height="60.90" fill="#9A4A22" />
<line x1="93.30" y1="391.90" x2="93.30" y2="398.80" stroke="#4a4a4a" stroke-width="1.1" />
<line x1="110.75" y1="393.70" x2="110.75" y2="397.20" stroke="#4a4a4a" stroke-width="1.1" />
<line x1="128.20" y1="361.00" x2="128.20" y2="370.20" stroke="#4a4a4a" stroke-width="1.1" />
<line x1="145.65" y1="348.10" x2="145.65" y2="363.80" stroke="#4a4a4a" stroke-width="1.1" />
<line x1="163.10" y1="366.80" x2="163.10" y2="376.50" stroke="#4a4a4a" stroke-width="1.1" />
<text x="0" y="0" font-size="7.5" font-weight="normal" text-anchor="middle" fill="#000" style="stroke:#000;stroke-width:0.45px" transform="translate(97.50,443.00) rotate(-45)">11</text>
<text x="0" y="0" font-size="7.5" font-weight="normal" text-anchor="middle" fill="#000" style="stroke:#000;stroke-width:0.45px" transform="translate(113.80,443.00) rotate(-45)">12</text>
<text x="0" y="0" font-size="7.5" font-weight="normal" text-anchor="middle" fill="#000" style="stroke:#000;stroke-width:0.45px" transform="translate(128.50,443.00) rotate(-45)">28</text>
<text x="0" y="0" font-size="7.5" font-weight="normal" text-anchor="middle" fill="#000" style="stroke:#000;stroke-width:0.45px" transform="translate(142.80,443.00) rotate(-45)">34</text>
<text x="0" y="0" font-size="7.5" font-weight="normal" text-anchor="middle" fill="#000" style="stroke:#000;stroke-width:0.45px" transform="translate(159.90,443.00) rotate(-45)">42</text>
<rect x="194.25" y="406.25" width="12.60" height="26.45" fill="#CCC1DA" />
<rect x="211.90" y="398.75" width="12.60" height="33.95" fill="#CCC1DA" />
<rect x="229.60" y="411.25" width="12.60" height="21.45" fill="#B2A2C7" />
<rect x="247.30" y="415.00" width="12.60" height="17.70" fill="#5F497A" />
<rect x="265.00" y="407.00" width="12.60" height="25.70" fill="#3F3151" />
<line x1="200.55" y1="403.75" x2="200.55" y2="408.00" stroke="#4a4a4a" stroke-width="1.1" />
<line x1="218.20" y1="394.50" x2="218.20" y2="402.50" stroke="#4a4a4a" stroke-width="1.1" />
<line x1="235.90" y1="408.75" x2="235.90" y2="413.00" stroke="#4a4a4a" stroke-width="1.1" />
<line x1="253.60" y1="411.25" x2="253.60" y2="418.75" stroke="#4a4a4a" stroke-width="1.1" />
<line x1="271.30" y1="403.00" x2="271.30" y2="410.00" stroke="#4a4a4a" stroke-width="1.1" />
<text x="0" y="0" font-size="7.5" font-weight="normal" text-anchor="middle" fill="#000" style="stroke:#000;stroke-width:0.45px" transform="translate(201.40,443.00) rotate(-45)">11</text>
<text x="0" y="0" font-size="7.5" font-weight="normal" text-anchor="middle" fill="#000" style="stroke:#000;stroke-width:0.45px" transform="translate(218.30,443.00) rotate(-45)">12</text>
<text x="0" y="0" font-size="7.5" font-weight="normal" text-anchor="middle" fill="#000" style="stroke:#000;stroke-width:0.45px" transform="translate(236.50,443.00) rotate(-45)">28</text>
<text x="0" y="0" font-size="7.5" font-weight="normal" text-anchor="middle" fill="#000" style="stroke:#000;stroke-width:0.45px" transform="translate(252.50,443.00) rotate(-45)">34</text>
<text x="0" y="0" font-size="7.5" font-weight="normal" text-anchor="middle" fill="#000" style="stroke:#000;stroke-width:0.45px" transform="translate(273.00,443.00) rotate(-45)">42</text>
<rect x="300.00" y="400.00" width="13.00" height="32.70" fill="#D7E4BD" />
<rect x="317.60" y="403.75" width="13.00" height="28.95" fill="#D7E4BD" />
<rect x="335.20" y="400.50" width="13.00" height="32.20" fill="#C3D69B" />
<rect x="352.80" y="407.00" width="13.00" height="25.70" fill="#76923C" />
<rect x="370.40" y="412.50" width="13.00" height="20.20" fill="#4F6228" />
<line x1="306.50" y1="397.00" x2="306.50" y2="402.00" stroke="#4a4a4a" stroke-width="1.1" />
<line x1="324.10" y1="398.75" x2="324.10" y2="408.75" stroke="#4a4a4a" stroke-width="1.1" />
<line x1="341.70" y1="398.75" x2="341.70" y2="402.50" stroke="#4a4a4a" stroke-width="1.1" />
<line x1="359.30" y1="400.50" x2="359.30" y2="413.75" stroke="#4a4a4a" stroke-width="1.1" />
<line x1="376.90" y1="410.50" x2="376.90" y2="414.50" stroke="#4a4a4a" stroke-width="1.1" />
<text x="0" y="0" font-size="7.5" font-weight="normal" text-anchor="middle" fill="#000" style="stroke:#000;stroke-width:0.45px" transform="translate(308.30,443.00) rotate(-45)">11</text>
<text x="0" y="0" font-size="7.5" font-weight="normal" text-anchor="middle" fill="#000" style="stroke:#000;stroke-width:0.45px" transform="translate(326.50,443.00) rotate(-45)">12</text>
<text x="0" y="0" font-size="7.5" font-weight="normal" text-anchor="middle" fill="#000" style="stroke:#000;stroke-width:0.45px" transform="translate(341.70,443.00) rotate(-45)">28</text>
<text x="0" y="0" font-size="7.5" font-weight="normal" text-anchor="middle" fill="#000" style="stroke:#000;stroke-width:0.45px" transform="translate(359.40,443.00) rotate(-45)">34</text>
<text x="0" y="0" font-size="7.5" font-weight="normal" text-anchor="middle" fill="#000" style="stroke:#000;stroke-width:0.45px" transform="translate(377.10,443.00) rotate(-45)">42</text>
<rect x="414.50" y="408.75" width="12.80" height="23.95" fill="#8DB4E3" />
<rect x="432.10" y="395.75" width="12.80" height="36.95" fill="#8DB4E3" />
<rect x="449.70" y="399.25" width="12.80" height="33.45" fill="#548DD4" />
<rect x="467.30" y="400.75" width="12.80" height="31.95" fill="#17365D" />
<rect x="484.90" y="385.50" width="12.80" height="47.20" fill="#0F243E" />
<line x1="420.90" y1="406.25" x2="420.90" y2="411.25" stroke="#4a4a4a" stroke-width="1.1" />
<line x1="438.50" y1="390.50" x2="438.50" y2="401.25" stroke="#4a4a4a" stroke-width="1.1" />
<line x1="456.10" y1="395.50" x2="456.10" y2="402.50" stroke="#4a4a4a" stroke-width="1.1" />
<line x1="473.70" y1="397.50" x2="473.70" y2="403.75" stroke="#4a4a4a" stroke-width="1.1" />
<line x1="491.30" y1="378.00" x2="491.30" y2="391.25" stroke="#4a4a4a" stroke-width="1.1" />
<text x="0" y="0" font-size="7.5" font-weight="normal" text-anchor="middle" fill="#000" style="stroke:#000;stroke-width:0.45px" transform="translate(422.70,443.00) rotate(-45)">11</text>
<text x="0" y="0" font-size="7.5" font-weight="normal" text-anchor="middle" fill="#000" style="stroke:#000;stroke-width:0.45px" transform="translate(440.00,443.00) rotate(-45)">12</text>
<text x="0" y="0" font-size="7.5" font-weight="normal" text-anchor="middle" fill="#000" style="stroke:#000;stroke-width:0.45px" transform="translate(455.80,443.00) rotate(-45)">28</text>
<text x="0" y="0" font-size="7.5" font-weight="normal" text-anchor="middle" fill="#000" style="stroke:#000;stroke-width:0.45px" transform="translate(473.40,443.00) rotate(-45)">34</text>
<text x="0" y="0" font-size="7.5" font-weight="normal" text-anchor="middle" fill="#000" style="stroke:#000;stroke-width:0.45px" transform="translate(491.40,443.00) rotate(-45)">42</text>
<rect x="226.50" y="373.70" width="54.30" height="61.80" fill="none" stroke="#f0bcc6" stroke-width="1.5"/>
<rect x="226.50" y="373.70" width="54.30" height="61.80" fill="none" stroke="#a8414f" stroke-width="1.4" stroke-dasharray="2.6,1.1"/>
<rect x="447.30" y="373.70" width="53.00" height="61.70" fill="none" stroke="#f0bcc6" stroke-width="1.5"/>
<rect x="447.30" y="373.70" width="53.00" height="61.70" fill="none" stroke="#a8414f" stroke-width="1.4" stroke-dasharray="2.6,1.1"/>
<line x1="245.70" y1="364.60" x2="469.50" y2="364.60" stroke="#444" stroke-width="1.5" />
<polygon points="357.70,358.10 358.49,360.01 360.55,360.17 358.98,361.52 359.46,363.53 357.70,362.45 355.94,363.53 356.42,361.52 354.85,360.17 356.91,360.01" fill="#111"/>
<line x1="87.60" y1="450.80" x2="174.50" y2="450.80" stroke="#4a4a4a" stroke-width="2.2" />
<line x1="190.50" y1="450.80" x2="280.00" y2="450.80" stroke="#4a4a4a" stroke-width="2.2" />
<line x1="300.00" y1="450.80" x2="389.00" y2="450.80" stroke="#4a4a4a" stroke-width="2.2" />
<line x1="414.40" y1="450.80" x2="506.40" y2="450.80" stroke="#4a4a4a" stroke-width="2.2" />
<text x="129.80" y="463.60" font-size="8.7" text-anchor="middle" fill="#222" >Control</text>
<text x="239.10" y="463.60" font-size="8.7" text-anchor="middle" fill="#222" >Ang-2-VEGF-A CrossMab</text>
<text x="343.90" y="463.60" font-size="8.7" text-anchor="middle" fill="#222" >Anti-Ang-2</text>
<text x="464.20" y="463.60" font-size="8.7" text-anchor="middle" fill="#222" >Anti-VEGF-A</text>
<text x="13.40" y="465.80" font-size="12.2" text-anchor="start" fill="#111" font-weight="bold" >D</text>
<line x1="84.00" y1="542.24" x2="171.00" y2="542.24" stroke="#f1f1f1" stroke-width="0.8" />
<line x1="84.00" y1="521.18" x2="171.00" y2="521.18" stroke="#f1f1f1" stroke-width="0.8" />
<line x1="84.00" y1="500.12" x2="171.00" y2="500.12" stroke="#f1f1f1" stroke-width="0.8" />
<line x1="84.00" y1="479.06" x2="171.00" y2="479.06" stroke="#f1f1f1" stroke-width="0.8" />
<line x1="84.00" y1="458.00" x2="171.00" y2="458.00" stroke="#f1f1f1" stroke-width="0.8" />
<line x1="191.50" y1="542.24" x2="278.00" y2="542.24" stroke="#f1f1f1" stroke-width="0.8" />
<line x1="191.50" y1="521.18" x2="278.00" y2="521.18" stroke="#f1f1f1" stroke-width="0.8" />
<line x1="191.50" y1="500.12" x2="278.00" y2="500.12" stroke="#f1f1f1" stroke-width="0.8" />
<line x1="191.50" y1="479.06" x2="278.00" y2="479.06" stroke="#f1f1f1" stroke-width="0.8" />
<line x1="191.50" y1="458.00" x2="278.00" y2="458.00" stroke="#f1f1f1" stroke-width="0.8" />
<line x1="299.50" y1="542.24" x2="385.00" y2="542.24" stroke="#f1f1f1" stroke-width="0.8" />
<line x1="299.50" y1="521.18" x2="385.00" y2="521.18" stroke="#f1f1f1" stroke-width="0.8" />
<line x1="299.50" y1="500.12" x2="385.00" y2="500.12" stroke="#f1f1f1" stroke-width="0.8" />
<line x1="299.50" y1="479.06" x2="385.00" y2="479.06" stroke="#f1f1f1" stroke-width="0.8" />
<line x1="299.50" y1="458.00" x2="385.00" y2="458.00" stroke="#f1f1f1" stroke-width="0.8" />
<line x1="409.50" y1="542.24" x2="498.00" y2="542.24" stroke="#f1f1f1" stroke-width="0.8" />
<line x1="409.50" y1="521.18" x2="498.00" y2="521.18" stroke="#f1f1f1" stroke-width="0.8" />
<line x1="409.50" y1="500.12" x2="498.00" y2="500.12" stroke="#f1f1f1" stroke-width="0.8" />
<line x1="409.50" y1="479.06" x2="498.00" y2="479.06" stroke="#f1f1f1" stroke-width="0.8" />
<line x1="409.50" y1="458.00" x2="498.00" y2="458.00" stroke="#f1f1f1" stroke-width="0.8" />
<line x1="83.90" y1="457.00" x2="83.90" y2="563.30" stroke="#c8c8c8" stroke-width="0.9" />
<text x="77.10" y="565.40" font-size="7.8" text-anchor="end" fill="#222" >0</text>
<text x="77.10" y="544.34" font-size="7.8" text-anchor="end" fill="#222" >5,000</text>
<text x="77.10" y="523.28" font-size="7.8" text-anchor="end" fill="#222" >10,000</text>
<text x="77.10" y="502.22" font-size="7.8" text-anchor="end" fill="#222" >15,000</text>
<text x="77.10" y="481.16" font-size="7.8" text-anchor="end" fill="#222" >20,000</text>
<text x="77.10" y="460.10" font-size="7.8" text-anchor="end" fill="#222" >25,000</text>
<text x="0" y="0" font-size="8.6" text-anchor="middle" fill="#222" transform="translate(42.4,510) rotate(-90)">VEGFR-2 (a.u.)</text>
<text x="29.60" y="574.00" font-size="8.6" text-anchor="start" fill="#222" >Study day</text>
<rect x="85.70" y="520.10" width="12.80" height="43.20" fill="#FBD5B5" />
<rect x="102.90" y="522.70" width="12.80" height="40.60" fill="#FBD5B5" />
<rect x="120.20" y="555.20" width="12.80" height="8.10" fill="#FAC090" />
<rect x="137.50" y="546.90" width="12.80" height="16.40" fill="#E26A1A" />
<rect x="154.80" y="548.70" width="12.80" height="14.60" fill="#9A4A22" />
<line x1="92.10" y1="511.00" x2="92.10" y2="528.00" stroke="#5e5e5e" stroke-width="1.2" />
<line x1="109.30" y1="519.60" x2="109.30" y2="524.80" stroke="#5e5e5e" stroke-width="1.2" />
<line x1="126.60" y1="552.60" x2="126.60" y2="557.80" stroke="#5e5e5e" stroke-width="1.2" />
<line x1="143.90" y1="542.20" x2="143.90" y2="551.30" stroke="#5e5e5e" stroke-width="1.2" />
<line x1="161.20" y1="544.80" x2="161.20" y2="552.60" stroke="#5e5e5e" stroke-width="1.2" />
<text x="0" y="0" font-size="7.5" font-weight="normal" text-anchor="middle" fill="#000" style="stroke:#000;stroke-width:0.45px" transform="translate(91.30,573.10) rotate(-45)">11</text>
<text x="0" y="0" font-size="7.5" font-weight="normal" text-anchor="middle" fill="#000" style="stroke:#000;stroke-width:0.45px" transform="translate(110.30,573.10) rotate(-45)">12</text>
<text x="0" y="0" font-size="7.5" font-weight="normal" text-anchor="middle" fill="#000" style="stroke:#000;stroke-width:0.45px" transform="translate(127.60,573.10) rotate(-45)">28</text>
<text x="0" y="0" font-size="7.5" font-weight="normal" text-anchor="middle" fill="#000" style="stroke:#000;stroke-width:0.45px" transform="translate(144.50,573.10) rotate(-45)">34</text>
<text x="0" y="0" font-size="7.5" font-weight="normal" text-anchor="middle" fill="#000" style="stroke:#000;stroke-width:0.45px" transform="translate(162.20,573.10) rotate(-45)">42</text>
<rect x="193.90" y="528.40" width="12.50" height="34.90" fill="#CCC1DA" />
<rect x="211.10" y="508.40" width="12.50" height="54.90" fill="#CCC1DA" />
<rect x="228.30" y="551.30" width="12.50" height="12.00" fill="#B2A2C7" />
<rect x="245.50" y="550.00" width="12.50" height="13.30" fill="#5F497A" />
<rect x="262.70" y="549.70" width="12.50" height="13.60" fill="#3F3151" />
<line x1="200.15" y1="523.50" x2="200.15" y2="532.60" stroke="#5e5e5e" stroke-width="1.2" />
<line x1="217.35" y1="497.30" x2="217.35" y2="519.60" stroke="#5e5e5e" stroke-width="1.2" />
<line x1="234.55" y1="548.20" x2="234.55" y2="553.90" stroke="#5e5e5e" stroke-width="1.2" />
<line x1="251.75" y1="547.40" x2="251.75" y2="551.80" stroke="#5e5e5e" stroke-width="1.2" />
<line x1="268.95" y1="546.60" x2="268.95" y2="551.80" stroke="#5e5e5e" stroke-width="1.2" />
<text x="0" y="0" font-size="7.5" font-weight="normal" text-anchor="middle" fill="#000" style="stroke:#000;stroke-width:0.45px" transform="translate(201.00,573.10) rotate(-45)">11</text>
<text x="0" y="0" font-size="7.5" font-weight="normal" text-anchor="middle" fill="#000" style="stroke:#000;stroke-width:0.45px" transform="translate(217.70,573.10) rotate(-45)">12</text>
<text x="0" y="0" font-size="7.5" font-weight="normal" text-anchor="middle" fill="#000" style="stroke:#000;stroke-width:0.45px" transform="translate(234.70,573.10) rotate(-45)">28</text>
<text x="0" y="0" font-size="7.5" font-weight="normal" text-anchor="middle" fill="#000" style="stroke:#000;stroke-width:0.45px" transform="translate(252.80,573.10) rotate(-45)">34</text>
<text x="0" y="0" font-size="7.5" font-weight="normal" text-anchor="middle" fill="#000" style="stroke:#000;stroke-width:0.45px" transform="translate(270.10,573.10) rotate(-45)">42</text>
<rect x="301.70" y="518.30" width="12.40" height="45.00" fill="#D7E4BD" />
<rect x="318.90" y="507.10" width="12.40" height="56.20" fill="#D7E4BD" />
<rect x="336.10" y="544.30" width="12.40" height="19.00" fill="#C3D69B" />
<rect x="353.30" y="534.90" width="12.40" height="28.40" fill="#76923C" />
<rect x="370.50" y="547.90" width="12.40" height="15.40" fill="#4F6228" />
<line x1="307.90" y1="508.40" x2="307.90" y2="527.90" stroke="#5e5e5e" stroke-width="1.2" />
<line x1="325.10" y1="502.70" x2="325.10" y2="511.00" stroke="#5e5e5e" stroke-width="1.2" />
<line x1="342.30" y1="539.60" x2="342.30" y2="549.20" stroke="#5e5e5e" stroke-width="1.2" />
<line x1="359.50" y1="528.40" x2="359.50" y2="541.40" stroke="#5e5e5e" stroke-width="1.2" />
<line x1="376.70" y1="545.60" x2="376.70" y2="550.00" stroke="#5e5e5e" stroke-width="1.2" />
<text x="0" y="0" font-size="7.5" font-weight="normal" text-anchor="middle" fill="#000" style="stroke:#000;stroke-width:0.45px" transform="translate(309.20,573.10) rotate(-45)">11</text>
<text x="0" y="0" font-size="7.5" font-weight="normal" text-anchor="middle" fill="#000" style="stroke:#000;stroke-width:0.45px" transform="translate(325.20,573.10) rotate(-45)">12</text>
<text x="0" y="0" font-size="7.5" font-weight="normal" text-anchor="middle" fill="#000" style="stroke:#000;stroke-width:0.45px" transform="translate(342.50,573.10) rotate(-45)">28</text>
<text x="0" y="0" font-size="7.5" font-weight="normal" text-anchor="middle" fill="#000" style="stroke:#000;stroke-width:0.45px" transform="translate(358.70,573.10) rotate(-45)">34</text>
<text x="0" y="0" font-size="7.5" font-weight="normal" text-anchor="middle" fill="#000" style="stroke:#000;stroke-width:0.45px" transform="translate(378.80,573.10) rotate(-45)">42</text>
<rect x="413.40" y="518.00" width="12.60" height="45.30" fill="#C6D9F1" />
<rect x="430.60" y="494.70" width="12.60" height="68.60" fill="#C6D9F1" />
<rect x="447.80" y="527.90" width="12.60" height="35.40" fill="#8DB4E3" />
<rect x="465.00" y="528.70" width="12.60" height="34.60" fill="#17365D" />
<rect x="482.20" y="524.50" width="12.60" height="38.80" fill="#0F243E" />
<line x1="419.70" y1="506.60" x2="419.70" y2="529.20" stroke="#5e5e5e" stroke-width="1.2" />
<line x1="436.90" y1="481.70" x2="436.90" y2="508.40" stroke="#5e5e5e" stroke-width="1.2" />
<line x1="454.10" y1="520.10" x2="454.10" y2="535.70" stroke="#5e5e5e" stroke-width="1.2" />
<line x1="471.30" y1="521.40" x2="471.30" y2="535.70" stroke="#5e5e5e" stroke-width="1.2" />
<line x1="488.50" y1="520.10" x2="488.50" y2="527.90" stroke="#5e5e5e" stroke-width="1.2" />
<text x="0" y="0" font-size="7.5" font-weight="normal" text-anchor="middle" fill="#000" style="stroke:#000;stroke-width:0.45px" transform="translate(419.60,573.10) rotate(-45)">11</text>
<text x="0" y="0" font-size="7.5" font-weight="normal" text-anchor="middle" fill="#000" style="stroke:#000;stroke-width:0.45px" transform="translate(439.50,573.10) rotate(-45)">12</text>
<text x="0" y="0" font-size="7.5" font-weight="normal" text-anchor="middle" fill="#000" style="stroke:#000;stroke-width:0.45px" transform="translate(455.10,573.10) rotate(-45)">28</text>
<text x="0" y="0" font-size="7.5" font-weight="normal" text-anchor="middle" fill="#000" style="stroke:#000;stroke-width:0.45px" transform="translate(471.50,573.10) rotate(-45)">34</text>
<text x="0" y="0" font-size="7.5" font-weight="normal" text-anchor="middle" fill="#000" style="stroke:#000;stroke-width:0.45px" transform="translate(488.00,573.10) rotate(-45)">42</text>
<rect x="226.00" y="504.00" width="52.60" height="61.30" fill="none" stroke="#f0bcc6" stroke-width="1.5"/>
<rect x="226.00" y="504.00" width="52.60" height="61.30" fill="none" stroke="#a8414f" stroke-width="1.4" stroke-dasharray="2.6,1.1"/>
<rect x="333.60" y="504.20" width="34.70" height="61.20" fill="none" stroke="#f0bcc6" stroke-width="1.5"/>
<rect x="333.60" y="504.20" width="34.70" height="61.20" fill="none" stroke="#a8414f" stroke-width="1.4" stroke-dasharray="2.6,1.1"/>
<rect x="446.60" y="503.80" width="50.70" height="61.30" fill="none" stroke="#f0bcc6" stroke-width="1.5"/>
<rect x="446.60" y="503.80" width="50.70" height="61.30" fill="none" stroke="#a8414f" stroke-width="1.4" stroke-dasharray="2.6,1.1"/>
<line x1="252.50" y1="478.90" x2="475.70" y2="478.90" stroke="#666" stroke-width="1.5" />
<polygon points="364.20,472.80 364.99,474.71 367.05,474.87 365.48,476.22 365.96,478.23 364.20,477.15 362.44,478.23 362.92,476.22 361.35,474.87 363.41,474.71" fill="#111"/>
<line x1="252.50" y1="490.60" x2="366.40" y2="490.60" stroke="#666" stroke-width="1.5" />
<polygon points="309.20,483.20 309.99,485.11 312.05,485.27 310.48,486.62 310.96,488.63 309.20,487.55 307.44,488.63 307.92,486.62 306.35,485.27 308.41,485.11" fill="#111"/>
<line x1="83.90" y1="579.10" x2="170.90" y2="579.10" stroke="#1a1a1a" stroke-width="1.6" />
<line x1="191.30" y1="579.10" x2="278.60" y2="579.10" stroke="#1a1a1a" stroke-width="1.6" />
<line x1="299.90" y1="579.10" x2="384.00" y2="579.10" stroke="#1a1a1a" stroke-width="1.6" />
<line x1="409.50" y1="579.10" x2="500.40" y2="579.10" stroke="#1a1a1a" stroke-width="1.6" />
<text x="128.80" y="592.00" font-size="8.7" text-anchor="middle" fill="#222" >Control</text>
<text x="238.90" y="592.00" font-size="8.7" text-anchor="middle" fill="#222" >Ang-2-VEGF-A CrossMab</text>
<text x="341.20" y="592.00" font-size="8.7" text-anchor="middle" fill="#222" >Anti-Ang-2</text>
<text x="458.80" y="592.00" font-size="8.7" text-anchor="middle" fill="#222" >Anti-VEGF-A</text>
<rect x="0.5" y="0.5" width="518.5" height="606" fill="none" stroke="#8a8a8a" stroke-width="1"/>
<line x1="519.3" y1="0" x2="519.3" y2="608" stroke="#8a8a8a" stroke-width="1.4"/>
<line x1="0" y1="607.2" x2="520" y2="607.2" stroke="#8a8a8a" stroke-width="1.6"/>
</svg></body></html>
